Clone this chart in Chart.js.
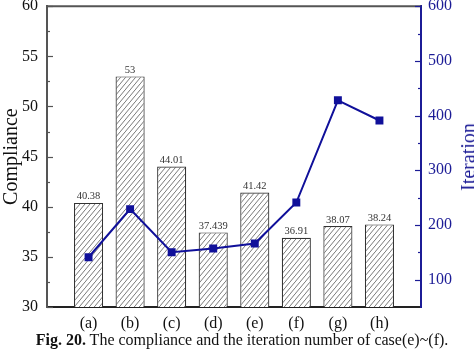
<!DOCTYPE html>
<html><head><meta charset="utf-8">
<script src="https://cdn.jsdelivr.net/npm/chart.js@4"></script>
<style>
html,body{margin:0;padding:0;background:#fff;}
#wrap{position:relative;width:474px;height:351px;overflow:hidden;}
#caption{position:absolute;left:0;width:484px;top:331px;text-align:center;font-family:"Liberation Serif";font-size:16px;line-height:18px;color:#111;white-space:nowrap;}
#rtitle{position:absolute;left:468px;top:157px;transform:translate(-50%,-50%) rotate(-90deg);font-family:"Liberation Serif";font-size:20px;line-height:24px;color:#1c1c96;white-space:nowrap;}
</style></head>
<body><div id="wrap"><canvas id="c" width="474" height="351"></canvas>
<div id="rtitle">Iteration</div>
<div id="caption"><b>Fig. 20.</b> The compliance and the iteration number of case(e)~(f).</div></div>
<script>
const categories = ['(a)','(b)','(c)','(d)','(e)','(f)','(g)','(h)'];
const compliance = [40.38, 53, 44.01, 37.439, 41.42, 36.91, 38.07, 38.24];
const complianceLabels = ['40.38','53','44.01','37.439','41.42','36.91','38.07','38.24'];
const iterations = [141, 229, 150, 157, 166, 241, 428, 391];
const leftTicks = [30,35,40,45,50,55,60];
const rightTicks = [100,200,300,400,500,600];

const navy = '#10109a';
const blueText = '#1c1c96';

function hatch(){
  const w=5,h=6;
  const c=document.createElement('canvas');c.width=w;c.height=h;
  const x=c.getContext('2d');
  x.fillStyle='#fff';x.fillRect(0,0,w,h);
  x.strokeStyle='#6a6a6a';x.lineWidth=0.9;
  x.beginPath();
  x.moveTo(0,h);x.lineTo(w,0);
  x.moveTo(-w,h);x.lineTo(0,0);
  x.moveTo(w,2*h);x.lineTo(2*w,h);
  x.stroke();
  return x.createPattern(c,'repeat');
}
const pattern=hatch();

const decor={
  id:'decor',
  afterDatasetsDraw(chart){
    const {ctx,chartArea:{left,right,top}}=chart;
    const y=chart.scales.y, y1=chart.scales.y1;
    ctx.save();
    ctx.lineWidth=2;ctx.strokeStyle='#555';
    ctx.beginPath();ctx.moveTo(left,top);ctx.lineTo(right,top);ctx.stroke();
    ctx.lineWidth=1.2;
    for(let v=30; v<=60; v+=2.5){
      const p=Math.round(y.getPixelForValue(v))+0.5, len=(v%5===0)?6:3;
      ctx.beginPath();ctx.moveTo(left,p);ctx.lineTo(left+len,p);ctx.stroke();
    }
    ctx.strokeStyle=blueText;
    for(let v=100; v<=600; v+=50){
      const p=Math.round(y1.getPixelForValue(v))+0.5, len=(v%100===0)?6:3;
      ctx.beginPath();ctx.moveTo(right,p);ctx.lineTo(right-len,p);ctx.stroke();
    }
    const meta=chart.getDatasetMeta(1);
    ctx.fillStyle='#333';ctx.font='10.5px "Liberation Serif"';
    ctx.textAlign='center';ctx.textBaseline='bottom';
    meta.data.forEach((el,i)=>{
      if(i<1||i>categories.length) return;
      ctx.fillText(complianceLabels[i-1], el.x, el.y-1);
    });
    ctx.restore();
  }
};

new Chart(document.getElementById('c'),{
  type:'bar',
  data:{
    labels:['',...categories,''],
    datasets:[
      {type:'line',label:'Iteration',yAxisID:'y1',data:[null,...iterations,null],
       borderColor:navy,backgroundColor:navy,borderWidth:2,pointStyle:'rect',pointRadius:4.2,
       pointBackgroundColor:navy,pointBorderColor:navy,tension:0,order:0},
      {type:'bar',label:'Compliance',yAxisID:'y',data:[null,...compliance,null],
       backgroundColor:pattern,borderColor:'#333',borderWidth:1.2,
       barPercentage:0.7,categoryPercentage:1,order:1}
    ]
  },
  options:{
    responsive:false,animation:false,
    layout:{padding:{top:6,left:0,right:0,bottom:0}},
    plugins:{legend:{display:false},tooltip:{enabled:false}},
    scales:{
      x:{type:'category',offset:false,
         grid:{drawOnChartArea:false,drawTicks:false},
         border:{color:'#222',width:2},
         ticks:{font:{family:'Liberation Serif',size:16},color:'#111',padding:7,autoSkip:false,maxRotation:0,minRotation:0},
         afterFit(s){s.height=44;s.paddingLeft=0;s.paddingRight=0;}},
      y:{type:'linear',position:'left',min:30,max:60,
         grid:{drawOnChartArea:false,drawTicks:false},
         border:{color:'#555',width:2},
         afterBuildTicks(s){s.ticks=leftTicks.map(v=>({value:v}));},
         ticks:{font:{family:'Liberation Serif',size:16},color:'#111',padding:9},
         title:{display:true,text:'Compliance',font:{family:'Liberation Serif',size:20},color:'#111',padding:0},
         afterFit(s){s.width=47;s.paddingTop=0;s.paddingBottom=0;}},
      y1:{type:'linear',position:'right',min:50,max:600,
         grid:{drawOnChartArea:false,drawTicks:false},
         border:{color:blueText,width:2},
         afterBuildTicks(s){s.ticks=rightTicks.map(v=>({value:v}));},
         ticks:{font:{family:'Liberation Serif',size:16},color:blueText,padding:7},
         afterFit(s){s.width=53;s.paddingTop=0;s.paddingBottom=0;}}
    }
  },
  plugins:[decor]
});
</script>
</body></html>
